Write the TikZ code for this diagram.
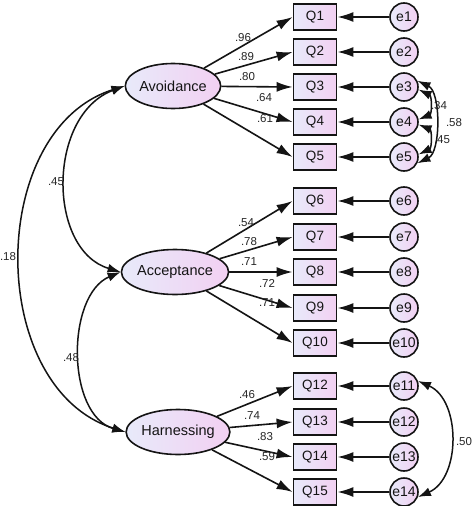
\documentclass[tikz,border=0pt]{standalone}
\usepackage{fontspec}
\setmainfont{Liberation Sans}
\usetikzlibrary{shapes.geometric,arrows.meta}
\definecolor{lc}{RGB}{232,234,250}
\definecolor{rc}{RGB}{242,208,242}
\definecolor{ink}{RGB}{20,20,20}
\begin{document}
\begin{tikzpicture}[x=1pt,y=-1pt,
  latent/.style={ellipse, draw=ink, line width=1.6pt, minimum width=93pt, minimum height=45pt, inner sep=0pt, left color=lc, right color=rc, text=ink, font=\fontsize{14.5}{17}\selectfont},
  obs/.style={rectangle, draw=ink, line width=1.8pt, minimum width=43pt, minimum height=26pt, inner sep=0pt, left color=lc, right color=rc, text=ink, font=\fontsize{13.5}{16}\selectfont},
  err/.style={circle, draw=ink, line width=1.6pt, minimum size=28pt, inner sep=0pt, left color=lc, right color=rc, text=ink, font=\fontsize{14}{16}\selectfont},
  coef/.style={font=\fontsize{11.5}{13}\selectfont, text=black!85, inner sep=0pt},
  arr/.style={draw=ink, line width=1.6pt, -{Latex[length=16pt,width=10pt]}},
  cov/.style={draw=ink, line width=1.5pt, {Latex[length=13pt,width=9pt]}-{Latex[length=13pt,width=9pt]}}]
\useasboundingbox[fill=white] (0,0) rectangle (474,506);

% latent variables
\node[latent] (Av) at (173,86) {Avoidance};
\node[latent] (Ac) at (175,272) {Acceptance};
\node[latent] (Ha) at (178,432) {Harnessing};

% observed and errors
\foreach \q/\e/\y in {Q1/e1/17, Q2/e2/52, Q3/e3/87, Q4/e4/122, Q5/e5/157,
                      Q6/e6/201, Q7/e7/237, Q8/e8/272, Q9/e9/308, Q10/e10/343,
                      Q12/e11/386, Q13/e12/422, Q14/e13/457, Q15/e14/492}{
  \node[obs] (\q) at (315,\y) {\q};
  \node[err] (\e) at (404,\y) {\e};
  \draw[arr] (\e) -- (\q);
}

% loadings
\foreach \q in {Q1,Q2,Q3,Q4,Q5}{\draw[arr] (Av) -- (\q.west);}
\foreach \q in {Q6,Q7,Q8,Q9,Q10}{\draw[arr] (Ac) -- (\q.west);}
\foreach \q in {Q12,Q13,Q14,Q15}{\draw[arr] (Ha) -- (\q.west);}

\node[coef] (l1) at (243,38) {.96};
\node[coef] (l2) at (246,57) {.89};
\node[coef] (l3) at (247,77) {.80};
\node[coef] (l4) at (264,98) {.64};
\node[coef] (l5) at (265,119) {.61};
\node[coef] (l6) at (246,223) {.54};
\node[coef] (l7) at (249,242) {.78};
\node[coef] (l8) at (249,262) {.71};
\node[coef] (l9) at (267,283) {.72};
\node[coef] (l10) at (267,303) {.71};
\node[coef] (l12) at (247,395) {.46};
\node[coef] (l13) at (252,416) {.74};
\node[coef] (l14) at (265,437) {.83};
\node[coef] (l15) at (267,457) {.59};

% latent covariances
\draw[cov] (Av.west) .. controls (47,115) and (47,250) .. (Ac.west);
\draw[cov] (Av.west) .. controls (-14,130) and (-14,388) .. (Ha.west);
\draw[cov] (Ac.west) .. controls (66,295) and (66,415) .. (Ha.west);
\node[coef] (c45) at (56,182) {.45};
\node[coef] (c18) at (8,257) {.18};
\node[coef] (c48) at (71,358) {.48};

% error covariances
\draw[cov] (e3.25) .. controls (441,92) and (441,152) .. (e5.-25);
\draw[cov] (e3.-10) .. controls (432,96) and (432,114) .. (e4.10);
\draw[cov] (e4.-10) .. controls (432,130) and (432,148) .. (e5.10);
\draw[cov] (e11.20) .. controls (461,400) and (461,478) .. (e14.-20);
\node[coef] (c34) at (439,106) {.34};
\node[coef] (c58) at (454,123) {.58};
\node[coef] (c45b) at (442,140) {.45};
\node[coef] (c50) at (464,442) {.50};
\end{tikzpicture}
\end{document}
